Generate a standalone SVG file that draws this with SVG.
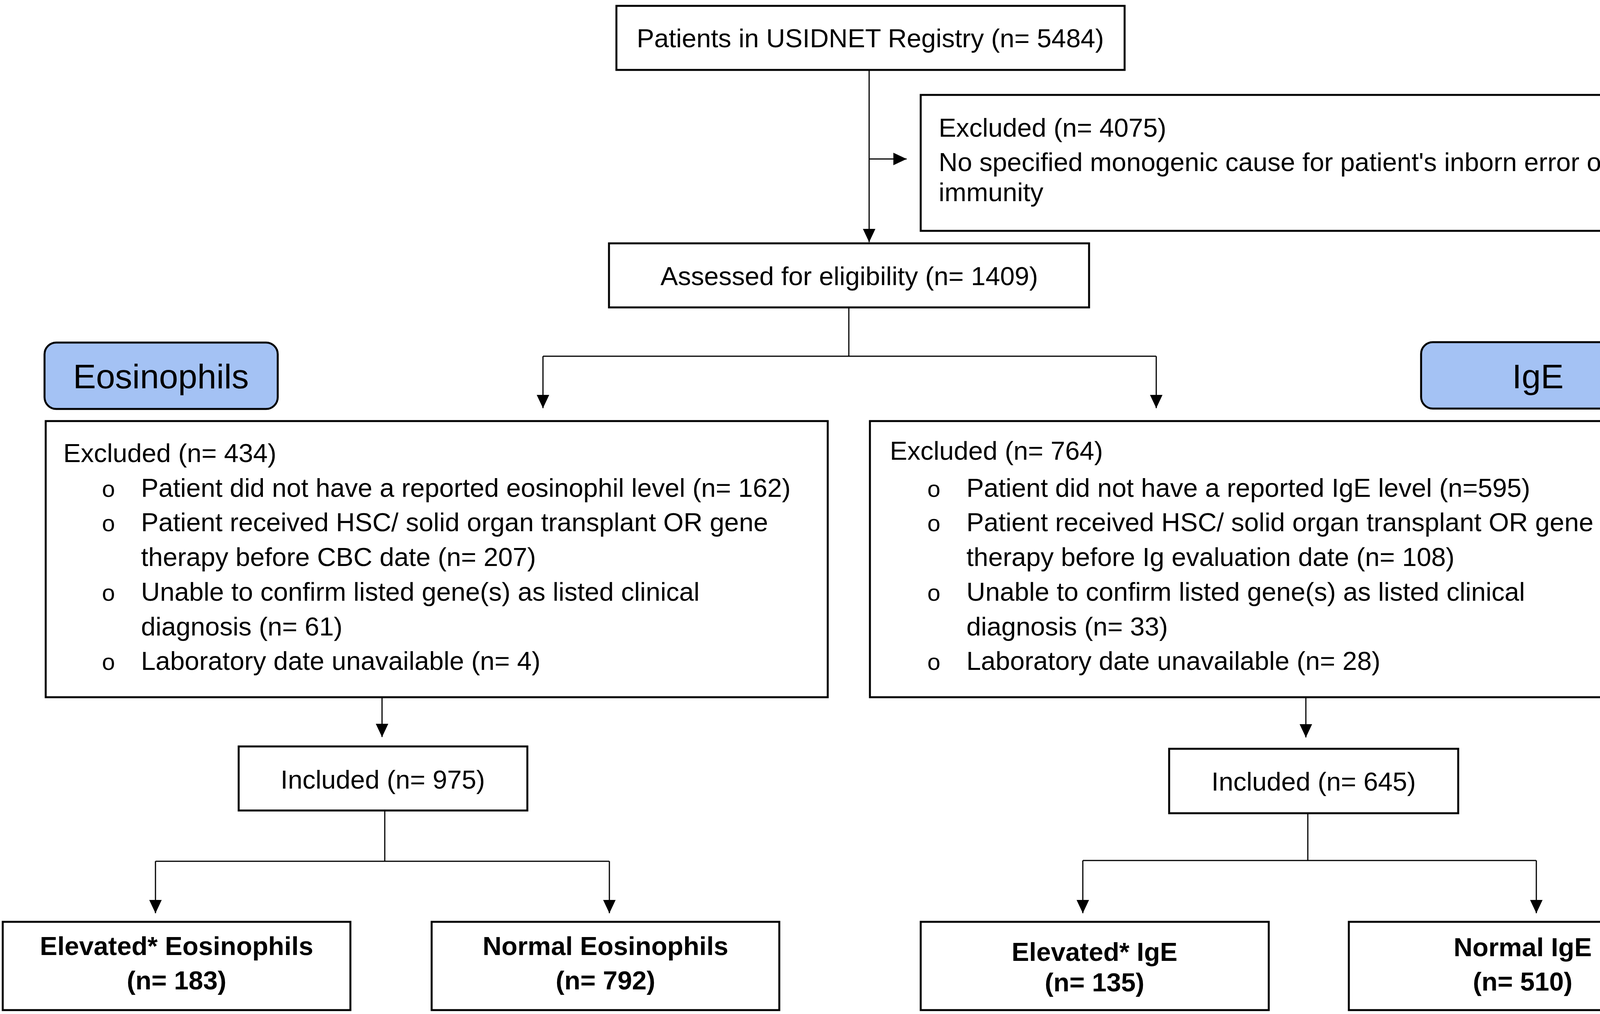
<svg xmlns="http://www.w3.org/2000/svg" width="4350" height="2596" viewBox="0 0 4350 2596">
<style>
text{font-family:"Liberation Sans",Arial,Helvetica,sans-serif;fill:#000;}
.t{font-size:67px;}
.c{text-anchor:middle;}
.b{font-weight:bold;font-size:67px;}
.h{font-size:88px;}
.o{font-size:60px;}
.box{fill:#fff;stroke:#000;stroke-width:5;}
.blue{fill:#a4c2f4;stroke:#000;stroke-width:5;}
.ln{fill:none;stroke:#000;stroke-width:3;}
</style>
<defs>
<marker id="ah" markerUnits="userSpaceOnUse" markerWidth="36" markerHeight="32" refX="34" refY="16" orient="auto">
<path d="M0,0 L34,16 L0,32 Z" fill="#000"/>
</marker>
</defs>
<rect width="4350" height="2596" fill="#fff"/>
<g id="connectors">
<path class="ln" d="M2225,179 V620" marker-end="url(#ah)"/>
<path class="ln" d="M2225,407 H2321" marker-end="url(#ah)"/>
<path class="ln" d="M2173,787 V912"/>
<path class="ln" d="M1390,912 H2960"/>
<path class="ln" d="M1390,912 V1045" marker-end="url(#ah)"/>
<path class="ln" d="M2960,912 V1045" marker-end="url(#ah)"/>
<path class="ln" d="M978,1785 V1887" marker-end="url(#ah)"/>
<path class="ln" d="M3343,1785 V1888" marker-end="url(#ah)"/>
<path class="ln" d="M985,2075 V2205"/>
<path class="ln" d="M398,2205 H1560"/>
<path class="ln" d="M398,2205 V2338" marker-end="url(#ah)"/>
<path class="ln" d="M1560,2205 V2338" marker-end="url(#ah)"/>
<path class="ln" d="M3348,2082 V2203"/>
<path class="ln" d="M2772,2203 H3933"/>
<path class="ln" d="M2772,2203 V2338" marker-end="url(#ah)"/>
<path class="ln" d="M3933,2203 V2338" marker-end="url(#ah)"/>
</g>
<g id="registry">
<rect class="box" x="1578" y="15" width="1301" height="164"/>
<text class="t c" x="2228" y="121">Patients in USIDNET Registry (n= 5484)</text>
</g>
<g id="excluded-top">
<rect class="box" x="2357" y="243" width="1810" height="348"/>
<text class="t" x="2403" y="350">Excluded (n= 4075)</text>
<text class="t" x="2403" y="438">No specified monogenic cause for patient's inborn error of</text>
<text class="t" x="2403" y="515">immunity</text>
</g>
<g id="assessed">
<rect class="box" x="1559" y="623" width="1229" height="164"/>
<text class="t c" x="2174" y="730">Assessed for eligibility (n= 1409)</text>
</g>
<g id="eos-label">
<rect class="blue" x="114" y="877" width="597" height="170" rx="30"/>
<text class="h c" x="412" y="994">Eosinophils</text>
</g>
<g id="ige-label">
<rect class="blue" x="3638" y="876" width="599" height="170" rx="30"/>
<text class="h c" x="3937" y="994">IgE</text>
</g>
<g id="excluded-eos">
<rect class="box" x="117" y="1078" width="2002" height="707"/>
<text class="t" x="162" y="1183">Excluded (n= 434)</text>
<text class="o" x="261" y="1272">o</text>
<text class="t" x="361" y="1272">Patient did not have a reported eosinophil level (n= 162)</text>
<text class="o" x="261" y="1360">o</text>
<text class="t" x="361" y="1360">Patient received HSC/ solid organ transplant OR gene</text>
<text class="t" x="361" y="1449">therapy before CBC date (n= 207)</text>
<text class="o" x="261" y="1538">o</text>
<text class="t" x="361" y="1538">Unable to confirm listed gene(s) as listed clinical</text>
<text class="t" x="361" y="1627">diagnosis (n= 61)</text>
<text class="o" x="261" y="1715">o</text>
<text class="t" x="361" y="1715">Laboratory date unavailable (n= 4)</text>
</g>
<g id="excluded-ige">
<rect class="box" x="2227" y="1078" width="2006" height="707"/>
<text class="t" x="2278" y="1177">Excluded (n= 764)</text>
<text class="o" x="2374" y="1272">o</text>
<text class="t" x="2474" y="1272">Patient did not have a reported IgE level (n=595)</text>
<text class="o" x="2374" y="1360">o</text>
<text class="t" x="2474" y="1360">Patient received HSC/ solid organ transplant OR gene</text>
<text class="t" x="2474" y="1449">therapy before Ig evaluation date (n= 108)</text>
<text class="o" x="2374" y="1538">o</text>
<text class="t" x="2474" y="1538">Unable to confirm listed gene(s) as listed clinical</text>
<text class="t" x="2474" y="1627">diagnosis (n= 33)</text>
<text class="o" x="2374" y="1715">o</text>
<text class="t" x="2474" y="1715">Laboratory date unavailable (n= 28)</text>
</g>
<g id="included-eos">
<rect class="box" x="611" y="1911" width="739" height="164"/>
<text class="t c" x="980" y="2019">Included (n= 975)</text>
</g>
<g id="included-ige">
<rect class="box" x="2993" y="1917" width="740" height="165"/>
<text class="t c" x="3363" y="2024">Included (n= 645)</text>
</g>
<g id="elevated-eos">
<rect class="box" x="7" y="2360" width="890" height="226"/>
<text class="b c" x="452" y="2445">Elevated* Eosinophils</text>
<text class="b c" x="452" y="2533">(n= 183)</text>
</g>
<g id="normal-eos">
<rect class="box" x="1105" y="2360" width="890" height="226"/>
<text class="b c" x="1550" y="2445">Normal Eosinophils</text>
<text class="b c" x="1550" y="2533">(n= 792)</text>
</g>
<g id="elevated-ige">
<rect class="box" x="2357" y="2360" width="891" height="226"/>
<text class="b c" x="2802" y="2460">Elevated* IgE</text>
<text class="b c" x="2802" y="2538">(n= 135)</text>
</g>
<g id="normal-ige">
<rect class="box" x="3453" y="2360" width="890" height="226"/>
<text class="b c" x="3898" y="2448">Normal IgE</text>
<text class="b c" x="3898" y="2536">(n= 510)</text>
</g>
</svg>
